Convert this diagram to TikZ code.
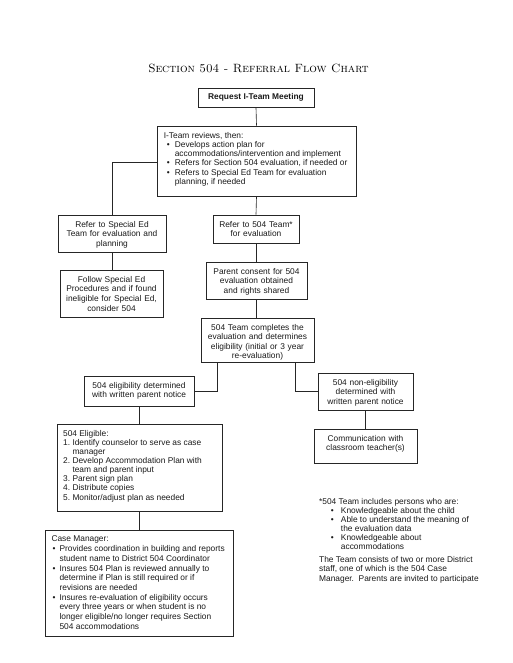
\documentclass[tikz,border=0pt]{standalone}
\usepackage{fontspec}
\newfontfamily\sansf{Liberation Sans}
\usetikzlibrary{fit}
\newcommand\fsz[1]{\sansf\fontsize{10}{#1}\selectfont}
\newcommand\bul[2]{\makebox[#2][l]{\hspace*{#1}\textbullet}}
\begin{document}
\begin{tikzpicture}[x=1.195pt,y=-1.195pt,
  box/.style={draw=black!85, line width=0.75pt, inner sep=0pt},
  txt/.style={inner sep=0pt, text=black!90},
  ctr/.style={txt, align=center, text width=200pt, anchor=north, yshift=-7.5pt},
  lft/.style={txt, align=left, anchor=north west, yshift=-7.5pt},
  conn/.style={draw=black!85, line width=0.75pt}]
\useasboundingbox (0,0) rectangle (512,663);

% title
\node[anchor=base, font=\fontsize{14.3}{16}\selectfont\scshape, text=black] (title) at (258.5,72) {Section 504 - Referral Flow Chart};

% boxes
\node[box, fit={(198,88) (314,107)}] (b1) {};
\node[box, fit={(157,126) (356,196)}] (b2) {};
\node[box, fit={(58,215) (166,252)}] (sped) {};
\node[box, fit={(213,215) (299,243)}] (r504) {};
\node[box, fit={(60,270) (163,317)}] (follow) {};
\node[box, fit={(206,262) (307,299)}] (parent) {};
\node[box, fit={(201,318) (314,362)}] (team) {};
\node[box, fit={(84,376) (194,406)}] (elig) {};
\node[box, fit={(318,373) (413,410)}] (nonelig) {};
\node[box, fit={(314,429) (417,463)}] (comm) {};
\node[box, fit={(57,424) (222,511)}] (eligible) {};
\node[box, fit={(45,530) (233,636)}] (case) {};

% texts
\node[txt, font=\sansf\bfseries\fontsize{10}{11.3}\selectfont] (t1) at (b1.center) {Request I-Team Meeting};
\node[lft, font=\fsz{11}, xshift=8.4pt] (t2) at (b2.north west) {I-Team reviews, then:\\
\bul{3.6pt}{13.1pt}Develops action plan for\\
\hspace*{13.1pt}accommodations/intervention and implement\\
\bul{3.6pt}{13.1pt}Refers for Section 504 evaluation, if needed or\\
\bul{3.6pt}{13.1pt}Refers to Special Ed Team for evaluation\\
\hspace*{13.1pt}planning, if needed};
\node[ctr, font=\fsz{11.35}] (tsped) at (sped.north) {Refer to Special Ed\\Team for evaluation and\\planning};
\node[ctr, font=\fsz{11.35}] (tr504) at (r504.north) {Refer to 504 Team*\\for evaluation};
\node[ctr, font=\fsz{11.55}] (tfollow) at (follow.north) {Follow Special Ed\\Procedures and if found\\ineligible for Special Ed,\\consider 504};
\node[ctr, font=\fsz{11.35}] (tparent) at (parent.north) {Parent consent for 504\\evaluation obtained\\and rights shared};
\node[ctr, font=\fsz{11.3}] (tteam) at (team.north) {504 Team completes the\\evaluation and determines\\eligibility (initial or 3 year\\re-evaluation)};
\node[ctr, font=\fsz{11.3}] (telig) at (elig.north) {504 eligibility determined\\with written parent notice};
\node[ctr, font=\fsz{11.3}] (tnonelig) at (nonelig.north) {504 non-eligibility\\determined with\\written parent notice};
\node[ctr, font=\fsz{11.3}] (tcomm) at (comm.north) {Communication with\\classroom teacher(s)};
\node[lft, font=\fsz{10.9}, xshift=7.5pt] (teligible) at (eligible.north west) {504 Eligible:\\
\makebox[11.2pt][l]{1.}Identify counselor to serve as case\\
\hspace*{11.2pt}manager\\
\makebox[11.2pt][l]{2.}Develop Accommodation Plan with\\
\hspace*{11.2pt}team and parent input\\
\makebox[11.2pt][l]{3.}Parent sign plan\\
\makebox[11.2pt][l]{4.}Distribute copies\\
\makebox[11.2pt][l]{5.}Monitor/adjust plan as needed};
\node[lft, font=\fsz{11.6}, xshift=8pt] (tcase) at (case.north west) {Case Manager:\\
\bul{1.2pt}{9.6pt}Provides coordination in building and reports\\
\hspace*{9.6pt}student name to District 504 Coordinator\\
\bul{1.2pt}{9.6pt}Insures 504 Plan is reviewed annually to\\
\hspace*{9.6pt}determine if Plan is still required or if\\
\hspace*{9.6pt}revisions are needed\\
\bul{1.2pt}{9.6pt}Insures re-evaluation of eligibility occurs\\
\hspace*{9.6pt}every three years or when student is no\\
\hspace*{9.6pt}longer eligible/no longer requires Section\\
\hspace*{9.6pt}504 accommodations};

% footnote
\node[txt, align=left, anchor=north west, font=\fsz{10.9}] (note) at (319,497.8) {*504 Team includes persons who are:\\
\bul{14pt}{26pt}Knowledgeable about the child\\
\bul{14pt}{26pt}Able to understand the meaning of\\
\hspace*{26pt}the evaluation data\\
\bul{14pt}{26pt}Knowledgeable about\\
\hspace*{26pt}accommodations\\[4.8pt]
The Team consists of two or more District\\
staff, one of which is the 504 Case\\
Manager.\ \ Parents are invited to participate};

% connectors
\draw[conn] (b1.south) -- (b2.north);
\draw[conn] (b2.west |- 0,162) -| (sped.north);
\draw[conn] (b2.south) -- (r504.north);
\draw[conn] (sped.south) -- (follow.north -| sped.south);
\draw[conn] (r504.south) -- (parent.north -| r504.south);
\draw[conn] (parent.south) -- (team.north -| parent.south);
\coordinate (tl) at (217,362);
\coordinate (tr) at (295,362);
\draw[conn] (tl) |- (elig.east);
\draw[conn] (tr) |- (nonelig.west);
\draw[conn] (elig.south) -- (eligible.north -| elig.south);
\draw[conn] (nonelig.south) -- (comm.north -| nonelig.south);
\draw[conn] (eligible.south) -- (case.north -| eligible.south);
\end{tikzpicture}
\end{document}
